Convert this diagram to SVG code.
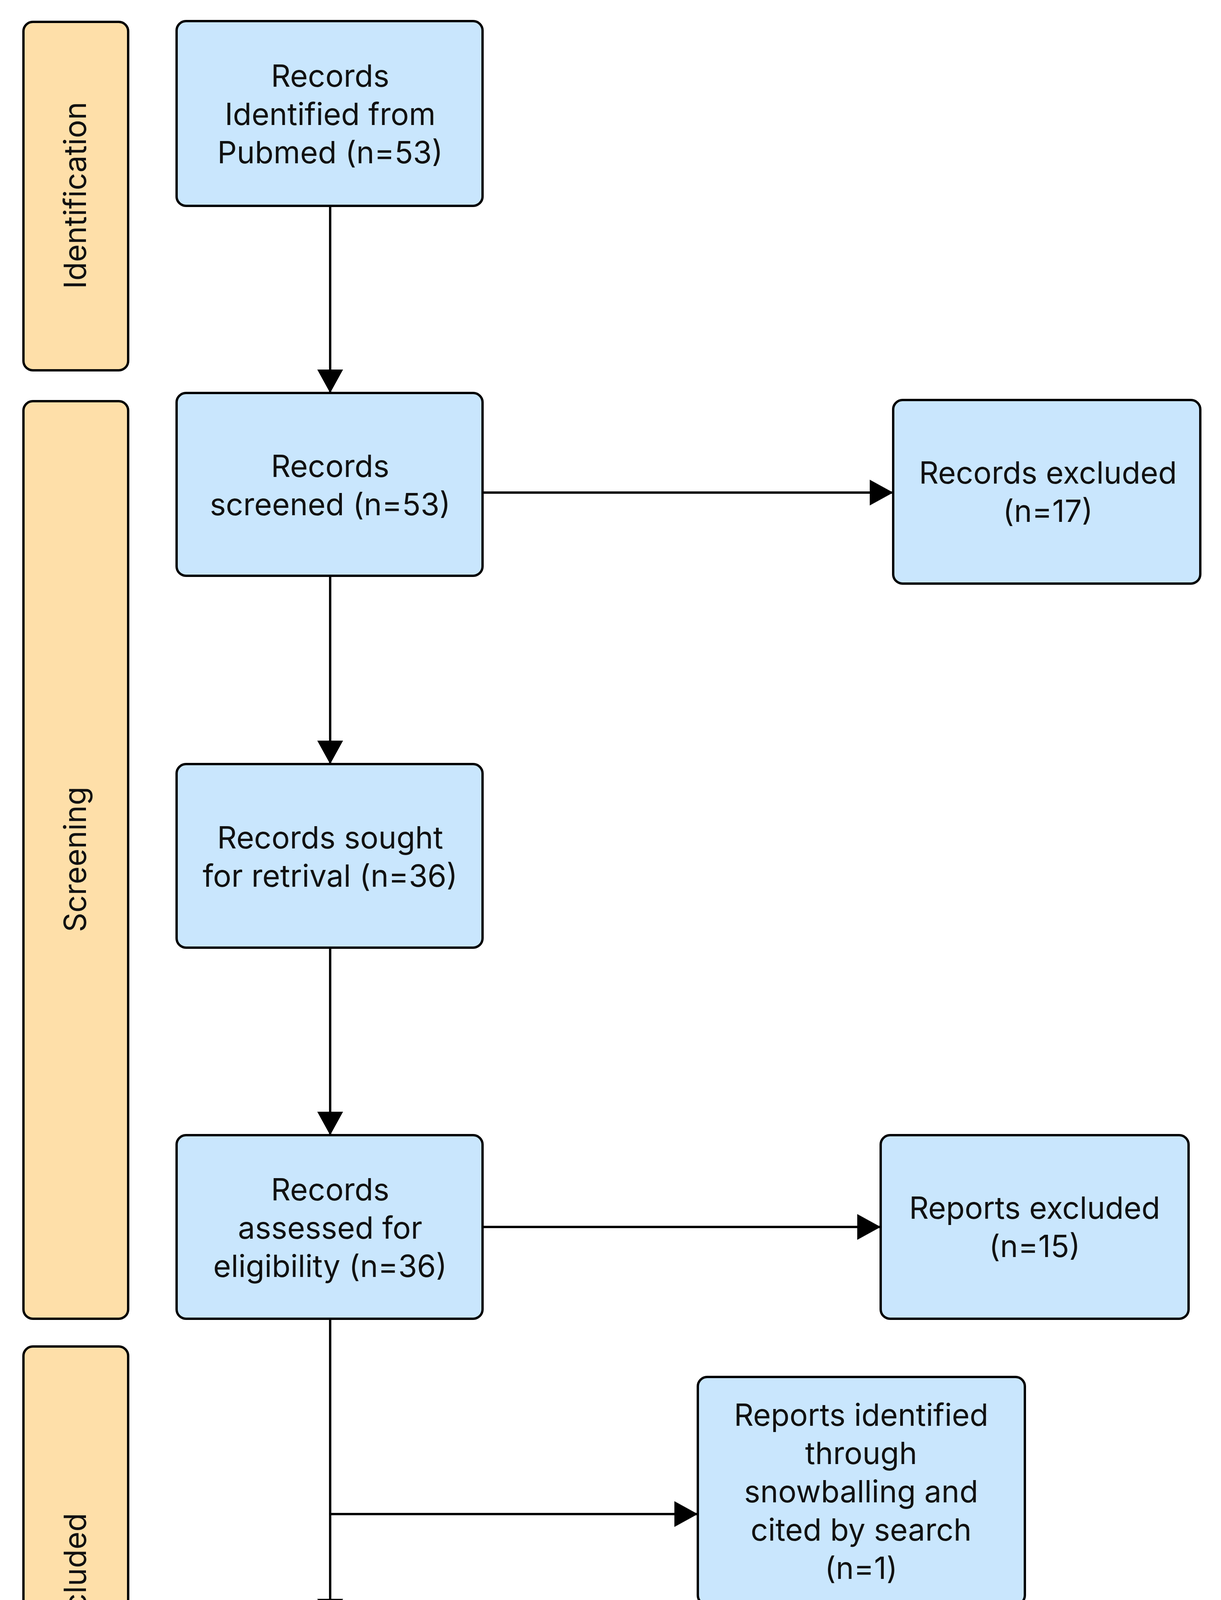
<svg xmlns="http://www.w3.org/2000/svg" width="3125" height="4672" viewBox="0 0 3125 4672">
<style>
.n{fill:#C9E6FD;stroke:#000;stroke-width:6}
.l{fill:#FEDFA9;stroke:#000;stroke-width:6}
text{font-family:Inter,"Liberation Sans",sans-serif;font-size:78px;fill:#111;text-anchor:middle}
.c{stroke:#000;stroke-width:6;fill:none}
</style>
<defs><marker id="a" markerUnits="userSpaceOnUse" markerWidth="64" markerHeight="70" refX="60" refY="35" orient="auto"><polygon points="0,2 60,35 0,68" fill="#000"/></marker></defs>
<rect width="3125" height="4672" fill="#fff"/>
<g id="lane-identification"><rect class="l" x="60" y="56" width="268" height="892" rx="24"/><text transform="translate(220,500) rotate(-90)">Identification</text></g>
<g id="lane-screening"><rect class="l" x="60" y="1027" width="268" height="2349" rx="24"/><text transform="translate(220,2200) rotate(-90)">Screening</text></g>
<g id="lane-included"><rect class="l" x="60" y="3447" width="268" height="1173" rx="24"/><text transform="translate(220,4032) rotate(-90)">Included</text></g>
<g id="connectors">
<line class="c" x1="845" y1="527" x2="845" y2="1006" marker-end="url(#a)"/>
<line class="c" x1="1235" y1="1261" x2="2286" y2="1261" marker-end="url(#a)"/>
<line class="c" x1="845" y1="1474" x2="845" y2="1956" marker-end="url(#a)"/>
<line class="c" x1="845" y1="2426" x2="845" y2="2906" marker-end="url(#a)"/>
<line class="c" x1="1235" y1="3141" x2="2254" y2="3141" marker-end="url(#a)"/>
<line class="c" x1="845" y1="3376" x2="845" y2="4153" marker-end="url(#a)"/>
<line class="c" x1="845" y1="3876" x2="1786" y2="3876" marker-end="url(#a)"/>
</g>
<g id="n1"><rect class="n" x="452" y="54" width="783" height="473" rx="24"/><text x="845" y="222">Records</text><text x="845" y="320">Identified from</text><text x="845" y="418">Pubmed (n=53)</text></g>
<g id="n2"><rect class="n" x="452" y="1006" width="783" height="468" rx="24"/><text x="845" y="1221">Records</text><text x="845" y="1319">screened (n=53)</text></g>
<g id="n3"><rect class="n" x="2286" y="1024" width="786" height="470" rx="24"/><text x="2682" y="1238">Records excluded</text><text x="2682" y="1336">(n=17)</text></g>
<g id="n4"><rect class="n" x="452" y="1956" width="783" height="470" rx="24"/><text x="845" y="2172">Records sought</text><text x="845" y="2270">for retrival (n=36)</text></g>
<g id="n5"><rect class="n" x="452" y="2906" width="783" height="470" rx="24"/><text x="845" y="3073">Records</text><text x="845" y="3171">assessed for</text><text x="845" y="3269">eligibility (n=36)</text></g>
<g id="n6"><rect class="n" x="2254" y="2906" width="788" height="470" rx="24"/><text x="2648" y="3120">Reports excluded</text><text x="2648" y="3218">(n=15)</text></g>
<g id="n7"><rect class="n" x="1786" y="3525" width="837" height="583" rx="24"/><text x="2204" y="3650">Reports identified</text><text x="2204" y="3748">through</text><text x="2204" y="3846">snowballing and</text><text x="2204" y="3944">cited by search</text><text x="2204" y="4042">(n=1)</text></g>
<g id="n8"><rect class="n" x="452" y="4153" width="783" height="467" rx="24"/><text x="845" y="4366">Studies included</text><text x="845" y="4464">(n=22)</text></g>
</svg>
